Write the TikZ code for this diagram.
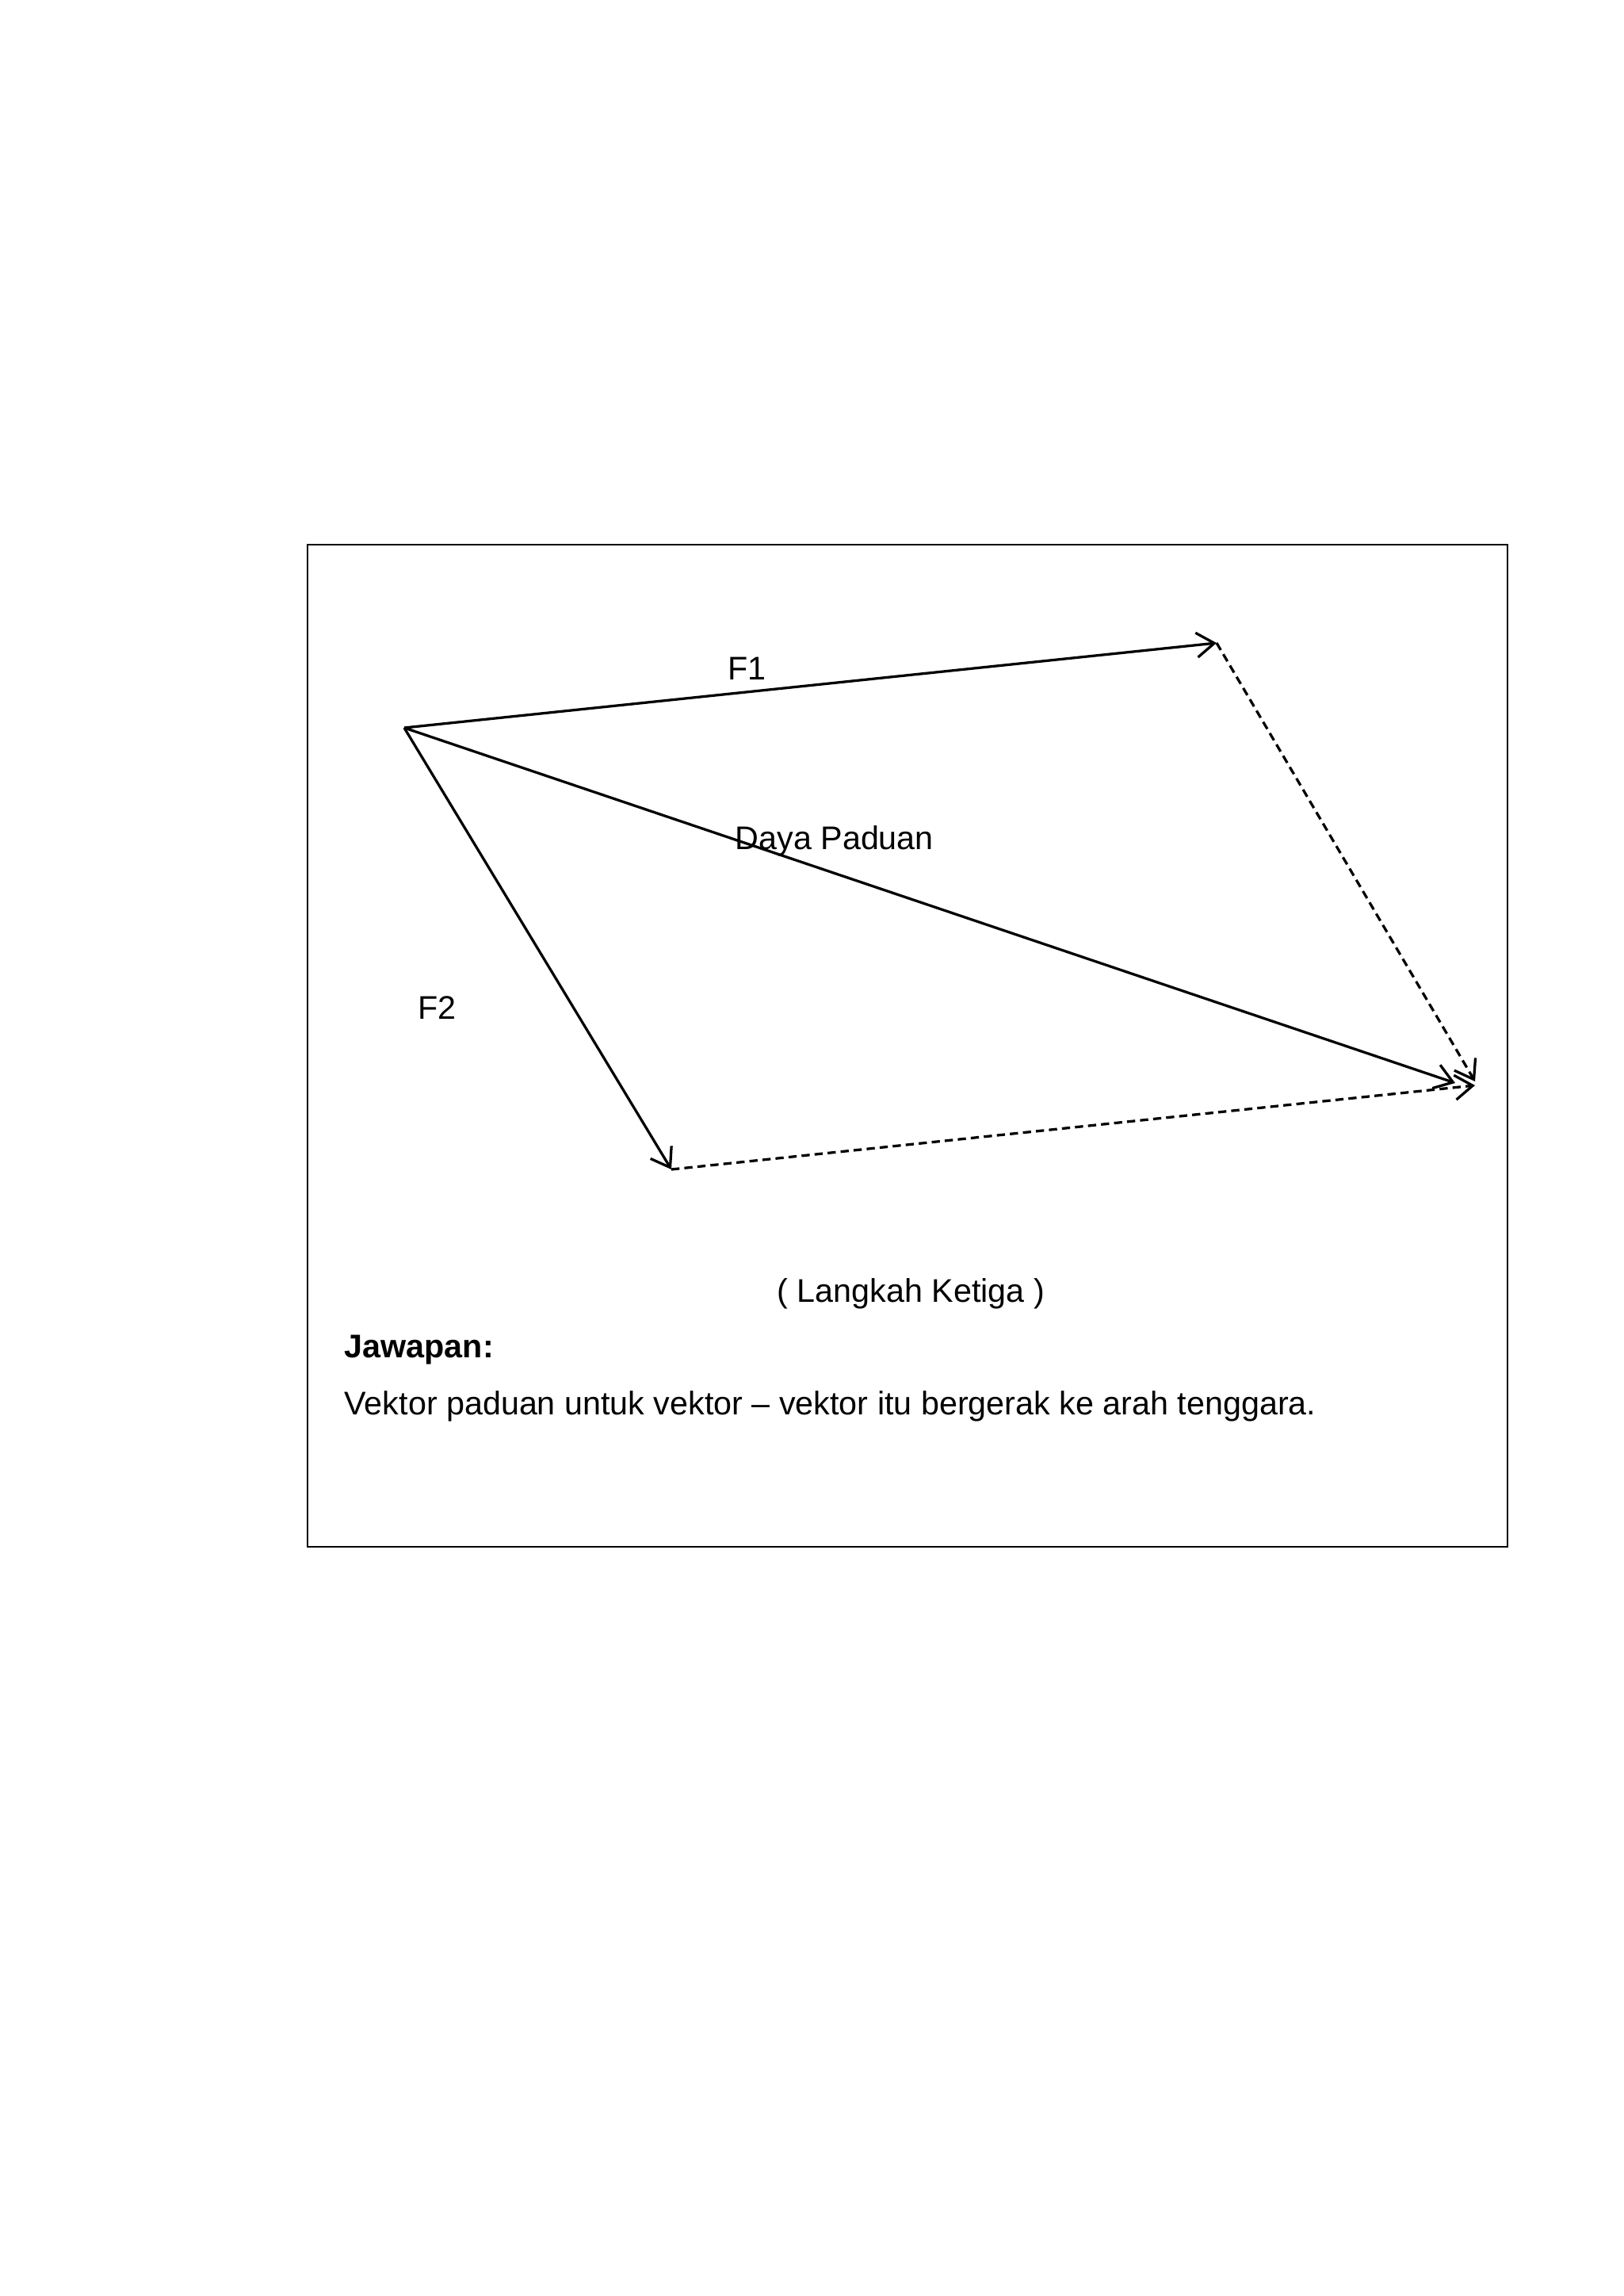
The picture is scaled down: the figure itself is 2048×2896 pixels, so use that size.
\documentclass[tikz,border=0pt]{standalone}
\usepackage{fontspec}
\setmainfont{Liberation Sans}
\usetikzlibrary{arrows.meta}
\begin{document}
\begin{tikzpicture}[x=0.2906pt,y=-0.2906pt,
  vec/.style={line width=0.95pt,-{Straight Barb[length=6.5pt,width=9pt,line width=0.95pt]}},
  dvec/.style={vec,dash pattern=on 3pt off 1.8pt},
  lbl/.style={inner sep=0pt,anchor=base west,font=\fontsize{12pt}{14pt}\selectfont}]
\useasboundingbox (0,0) rectangle (2048,2896);
\draw[line width=0.8pt] (388,687) rectangle (1902,1951);
\coordinate (O) at (510,918);
\coordinate (A) at (1535,811);
\coordinate (B) at (847,1475);
\coordinate (R) at (1836,1366);
\coordinate (C1) at (1861,1364);
\coordinate (C2) at (1861,1369);
\draw[vec] (O) -- (A);
\draw[vec] (O) -- (B);
\draw[vec] (O) -- (R);
\draw[dvec] (A) -- (C1);
\draw[dvec] (B) -- (C2);
\node[lbl] (f1) at (918,857) {F1};
\node[lbl] (dp) at (927,1071) {Daya Paduan};
\node[lbl] (f2) at (527,1285) {F2};
\node[lbl] (lk) at (980,1642) {( Langkah Ketiga )};
\node[lbl,font=\fontsize{12pt}{14pt}\selectfont\bfseries] (jw) at (434,1712) {Jawapan:};
\node[lbl] (vk) at (434,1784) {Vektor paduan untuk vektor – vektor itu bergerak ke arah tenggara.};
\end{tikzpicture}
\end{document}
